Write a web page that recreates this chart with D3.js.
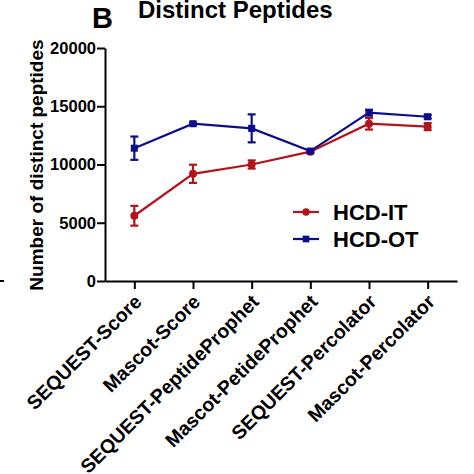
<!DOCTYPE html>
<html>
<head>
<meta charset="utf-8">
<script src="https://cdn.jsdelivr.net/npm/d3@7"></script>
<style>
body { margin: 0; background: #fff; }
svg text { font-family: "Liberation Sans", Arial, sans-serif; font-weight: bold; fill: #000; }
.axis path, .axis line { stroke: #000; stroke-width: 2; }
</style>
</head>
<body>
<script>
var categories = ["SEQUEST-Score", "Mascot-Score", "SEQUEST-PeptideProphet",
    "Mascot-PetideProphet", "SEQUEST-Percolator", "Mascot-Percolator"];
var itValues = [5600, 9200, 10000, 11100, 13500, 13250];
var itErrors = [850, 780, 350, 100, 500, 300];
var otValues = [11400, 13500, 13100, 11150, 14450, 14100];
var otErrors = [1000, 100, 1200, 100, 250, 150];
var yTicks = [0, 5000, 10000, 15000, 20000];
var seriesNames = ["HCD-IT", "HCD-OT"];

var red = "#b3141b";
var blue = "#0c0c8c";

var drawSeries = function(svg, xScale, yScale, values, errors, color, square){
    var line = d3.line()
        .x(function(d, i){ return xScale(categories[i]); })
        .y(function(d){ return yScale(d); });
    svg.append("path").datum(values)
        .attr("fill", "none")
        .attr("stroke", color)
        .attr("stroke-width", 2.2)
        .attr("d", line);

    // error bars with caps
    var g = svg.append("g").attr("stroke", color).attr("stroke-width", 2.2);
    values.forEach(function(v, i){
        var x = xScale(categories[i]);
        var lo = yScale(v - errors[i]), hi = yScale(v + errors[i]);
        g.append("line").attr("x1", x).attr("x2", x).attr("y1", lo).attr("y2", hi);
        g.append("line").attr("x1", x - 4).attr("x2", x + 4).attr("y1", lo).attr("y2", lo);
        g.append("line").attr("x1", x - 4).attr("x2", x + 4).attr("y1", hi).attr("y2", hi);
    });

    svg.append("g").selectAll("path").data(values).enter().append("path")
        .attr("fill", color)
        .attr("d", d3.symbol().size(50).type(square ? d3.symbolSquare : d3.symbolCircle))
        .attr("transform", function(d, i){
            return "translate(" + xScale(categories[i]) + "," + yScale(d) + ")";
        });
};

var drawLegend = function(svg){
    var items = [{name: seriesNames[0], color: red, square: false},
                 {name: seriesNames[1], color: blue, square: true}];
    var g = svg.append("g").attr("transform", "translate(293,212)");
    items.forEach(function(it, i){
        var row = g.append("g").attr("transform", "translate(0," + (i * 27) + ")");
        row.append("line").attr("x1", 0).attr("x2", 26).attr("y1", 0).attr("y2", 0)
            .attr("stroke", it.color).attr("stroke-width", 2.2);
        row.append("path").attr("fill", it.color)
            .attr("d", d3.symbol().size(45).type(it.square ? d3.symbolSquare : d3.symbolCircle))
            .attr("transform", "translate(13,0)");
        row.append("text").attr("x", 40).attr("y", 8)
            .attr("font-size", 22).text(it.name);
    });
};

var loadGraph = function(){
    var svg = d3.select("body").append("svg")
        .attr("width", 474).attr("height", 474);

    var xScale = d3.scalePoint().domain(categories).range([105, 457]).padding(0.5);
    var yScale = d3.scaleLinear().domain([0, 20000]).range([281, 48]);

    svg.append("g").attr("class", "axis")
        .attr("transform", "translate(105,0)")
        .call(d3.axisLeft(yScale).tickValues(yTicks).tickSize(8).tickSizeOuter(0).tickFormat(d3.format("d")))
        .call(function(g){
            g.attr("font-family", null).attr("font-size", null);
            g.selectAll("text").attr("font-size", 16.5).attr("x", -9);
        });

    svg.append("g").attr("class", "axis")
        .attr("transform", "translate(0,281)")
        .call(d3.axisBottom(xScale).tickSize(8).tickSizeOuter(0))
        .call(function(g){
            g.attr("font-family", null).attr("font-size", null);
            g.selectAll("text")
                .attr("font-size", 19.5)
                .attr("text-anchor", "end")
                .attr("dy", null)
                .attr("y", 0)
                .attr("transform", "translate(8,22) rotate(-45)");
        });

    svg.append("text")
        .attr("transform", "translate(43,165) rotate(-90)")
        .attr("text-anchor", "middle")
        .attr("font-size", 19)
        .text("Number of distinct peptides");

    svg.append("text").attr("x", 92).attr("y", 28).attr("font-size", 29).text("B");
    svg.append("text").attr("x", 138).attr("y", 18).attr("font-size", 24).text("Distinct Peptides");

    // stray mark from the neighbouring panel
    svg.append("line").attr("x1", 0).attr("x2", 4).attr("y1", 281).attr("y2", 281)
        .attr("stroke", "#000").attr("stroke-width", 2);

    drawSeries(svg, xScale, yScale, itValues, itErrors, red, false);
    drawSeries(svg, xScale, yScale, otValues, otErrors, blue, true);
    drawLegend(svg);
};

window.onload = loadGraph;
</script>
</body>
</html>
